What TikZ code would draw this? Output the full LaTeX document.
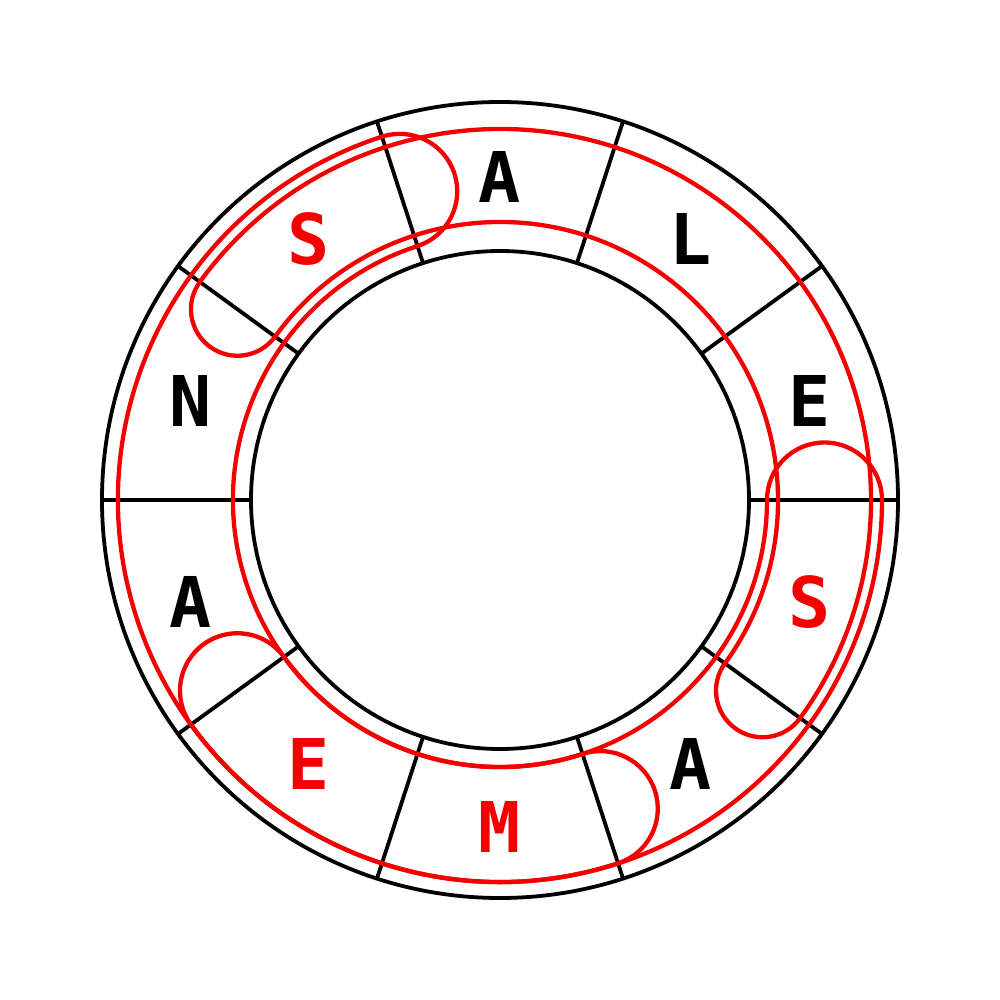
\documentclass[tikz,border=0pt]{standalone}
\usepackage{fontspec}
\newfontfamily\ringfont{DejaVu Sans Mono}
\definecolor{ringred}{RGB}{245,0,0}
\begin{document}
\begin{tikzpicture}[x=1pt,y=1pt,
  ringline/.style={line width=3.8pt, black},
  redtrack/.style={line width=4.3pt, ringred, line join=round},
  letter/.style={font=\ringfont\bfseries\fontsize{70pt}{80pt}\selectfont, inner sep=0pt, anchor=center, text=black, yshift=-1.5pt},
  redletter/.style={letter, text=ringred}]
\useasboundingbox[fill=white] (-500,-500) rectangle (500,500);
% black ring
\draw[ringline] (0,0) circle[radius=398pt];
\draw[ringline] (0,0) circle[radius=249pt];
\foreach \a in {0,36,...,324} \draw[ringline] (\a:249pt) -- (\a:398pt);
% letters
\node[letter]    (s90)  at (90:325pt)   {A};
\node[letter]    (s54)  at (54:325pt)   {L};
\node[letter]    (s18)  at (18:325pt)   {E};
\node[redletter] (sm18) at (-18:325pt)  {S};
\node[letter]    (sm54) at (-54:325pt)  {A};
\node[redletter] (sm90) at (-90:325pt)  {M};
\node[redletter] (sm126) at (-126:325pt) {E};
\node[letter]    (sm162) at (-162:325pt) {A};
\node[letter]    (s162) at (162:325pt)  {N};
\node[redletter] (s126) at (126:325pt)  {S};
% red racetracks
\draw[redtrack] (-36:371pt) arc[start angle=-36, end angle=144, radius=371pt]
  arc[start angle=144, end angle=324, radius=46.5pt]
  arc[start angle=144, end angle=-36, radius=278pt]
  arc[start angle=144, end angle=324, radius=46.5pt] -- cycle;
\draw[redtrack] (-144:382pt) arc[start angle=-144, end angle=0, radius=382pt]
  arc[start angle=0, end angle=180, radius=57.5pt]
  arc[start angle=0, end angle=-144, radius=267pt]
  arc[start angle=36, end angle=216, radius=57.5pt] -- cycle;
\draw[redtrack] (108:382pt) arc[start angle=108, end angle=288, radius=382pt]
  arc[start angle=288, end angle=468, radius=57.5pt]
  arc[start angle=288, end angle=108, radius=267pt]
  arc[start angle=288, end angle=468, radius=57.5pt] -- cycle;
\end{tikzpicture}
\end{document}
